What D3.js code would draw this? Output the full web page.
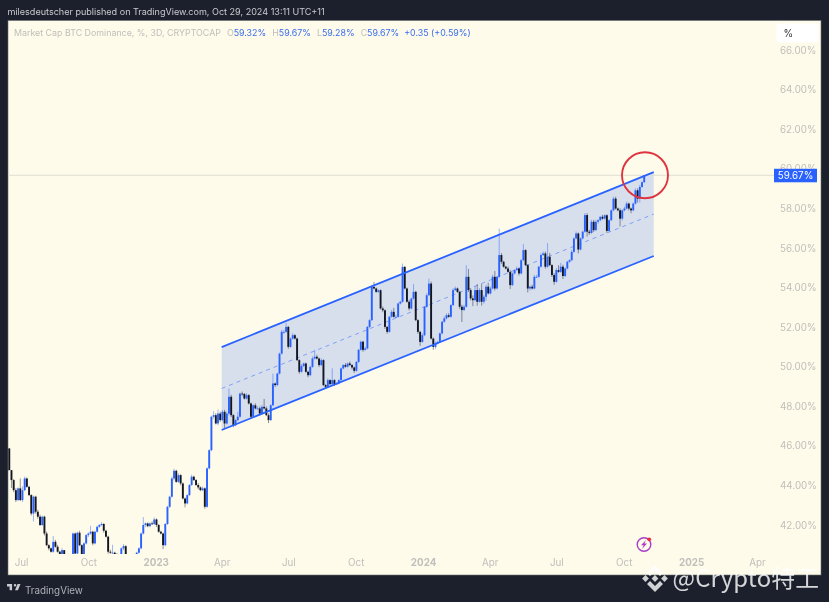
<!DOCTYPE html>
<html><head><meta charset="utf-8">
<script src="https://cdn.jsdelivr.net/npm/d3@7/dist/d3.min.js"></script>
<style>
html,body{margin:0;padding:0;background:#1c202c;overflow:hidden}
svg{display:block;filter:blur(.35px)}
text{font-family:Inter,"Noto Sans",sans-serif}
</style></head><body><svg id="c" width="829" height="602"></svg>
<script>
const firstOpen = 45.87;
const lastBarDate = "2024-10-29";
const closes = [
44.77,44.27,43.76,43.26,43.85,43.26,43.76,44.35,43.93,43.51,
42.58,43.43,42.67,42.42,42.0,42.42,41.57,40.98,40.82,40.65,
41.15,40.9,40.65,40.5,40.73,40.3,40.2,40.3,40.4,41.57,
40.56,41.61,40.98,40.53,41.07,41.49,41.57,41.66,41.07,41.66,
41.91,42.0,42.05,41.71,41.41,40.65,40.6,40.6,40.53,40.48,
40.43,40.82,40.93,40.5,40.3,40.25,40.3,40.4,40.6,40.82,
41.57,42.0,42.08,41.94,42.08,42.05,42.28,42.0,41.66,41.57,
40.98,42.05,42.92,43.43,44.35,44.74,44.18,44.52,44.1,43.34,
43.09,43.51,44.02,44.44,44.27,44.02,43.9,43.76,43.85,42.92,
44.86,45.78,47.47,47.55,47.13,47.63,47.3,47.72,47.13,47.63,
48.48,47.55,47.04,47.3,47.47,48.64,48.62,48.39,48.56,48.14,
47.47,48.05,47.89,47.89,47.63,47.97,47.89,47.55,47.3,48.05,
49.15,49.07,49.65,50.66,51.76,51.76,52.01,51.0,51.42,51.59,
51.42,50.33,49.74,50.03,50.16,49.74,49.57,49.99,50.41,50.5,
50.41,50.08,50.33,49.07,48.98,49.32,49.12,49.32,49.12,49.15,
49.32,49.91,50.08,50.0,50.16,50.08,49.96,49.79,50.24,50.85,
51.26,50.85,50.92,52.01,52.35,54.03,53.95,53.78,53.86,52.94,
52.85,52.01,51.76,52.52,52.77,52.52,52.52,53.19,53.28,55.04,
53.95,53.28,52.94,53.44,53.78,52.35,51.76,51.25,51.59,53.02,
53.61,54.2,51.42,51.0,51.17,51.25,51.68,52.27,52.44,52.6,
52.52,53.11,53.87,53.95,53.78,53.03,52.86,53.03,54.54,53.87,
53.45,53.36,53.87,53.28,53.87,53.28,53.53,54.04,53.7,53.95,
54.54,53.95,54.54,55.64,55.3,55.05,54.96,54.79,54.12,54.71,
54.88,54.96,54.71,55.38,55.89,55.13,53.95,54.04,53.95,54.54,
54.54,55.05,55.64,55.72,55.05,55.55,55.13,54.63,54.29,54.88,
54.79,55.05,54.58,54.96,55.3,55.38,55.8,56.48,56.73,55.92,
56.48,56.82,57.66,56.82,56.76,57.32,56.9,57.32,57.4,57.57,
57.48,57.65,56.86,57.4,57.9,58.49,57.99,57.9,57.48,57.9,
57.99,58.24,57.99,57.9,58.24,58.91,58.49,59.08,59.32,59.67];
const upperWicks = [
0,0,.05,.1,.05,.5,.2,.1,.05,.05,
.05,.05,.05,.1,.1,.05,.05,.1,.05,.05,
.3,.1,.1,.05,.1,0,0,0,0,.05,
.05,.05,.1,.05,.05,.05,.05,.3,.05,.05,
.05,.05,.1,.05,.05,.05,.1,.4,.05,.05,
.05,.05,.1,.05,0,0,0,0,.05,.05,
.05,.4,.05,.05,.05,.1,.1,.05,.05,.05,
.05,.05,.05,.05,.1,.1,.05,.1,.05,.05,
.05,.05,.05,.1,.05,.05,.1,.05,.1,.05,
.05,.05,.05,.2,.1,.2,.1,.1,.1,.1,
.42,.1,.05,.05,.25,.05,.1,.05,.1,.05,
.05,.05,.1,.1,.1,.1,.4,.1,.1,.05,
.5,.05,.05,.05,.1,.1,.2,.05,.05,.1,
.05,.05,.05,.1,.05,.05,.05,.05,.1,.35,
.1,.05,.1,.05,.05,.1,.05,.6,.05,.05,
.05,.05,.05,.1,.05,.1,.05,.05,.05,.05,
.05,.05,.1,.05,.05,.1,.25,.05,.05,.05,
.1,.05,.05,.05,.1,.2,.1,.05,.05,.17,
.05,.05,.1,.05,.4,.05,.05,.05,.1,.05,
.1,.25,.1,.05,.1,.05,.05,.05,.1,.1,
.1,.05,.1,.1,.05,.05,.1,.1,.59,.4,
.1,.15,.2,.3,.1,.3,.1,.1,.2,.1,
.1,.3,.05,1.34,.1,.05,.05,.1,.1,.05,
.05,.1,.05,.05,.3,.05,.05,.05,.1,.1,
.1,.05,.1,.1,.1,.7,.2,.05,.1,.1,
.25,.2,.1,.05,.05,.05,.1,.05,.1,.05,
.05,.05,.1,.1,.1,.1,.1,.1,.05,.05,
.1,.05,.05,.05,.05,.1,.1,.05,.1,.05,
.1,.1,.05,.05,.05,.1,.1,.1,.05,0];
const lowerWicks = [
0,.4,.1,.1,.05,.05,.1,.05,.05,.05,
.1,.4,.1,.1,.05,.05,.1,.05,.1,.05,
.05,.05,.05,.1,.05,0,0,0,0,.05,
.1,.05,.05,.1,.05,.05,.1,.05,.1,.05,
.05,.05,.05,.1,.05,.1,.05,.05,.1,.05,
.05,.05,.1,.05,0,0,0,0,.05,.05,
.05,.05,.1,.05,.05,.05,.05,.1,.05,.05,
.2,.05,.05,.05,.05,.1,.05,.05,.1,.05,
.2,.05,.05,.05,.05,.05,.1,.05,.05,.1,
.05,.05,.05,.1,.05,.1,.1,.05,.25,.05,
.1,.1,.1,.05,.05,.05,.1,.05,.05,.05,
.1,.05,.05,.05,.1,.05,.05,.05,.15,.05,
.05,.1,.05,.05,.05,.1,.05,.1,.05,.05,
.05,.05,.1,.05,.05,.05,.1,.05,.05,.05,
.05,.1,.05,.05,.1,.05,.05,.05,.1,.05,
.05,.05,.05,.05,.05,.05,.1,.1,.05,.05,
.05,.1,.05,.05,.05,.05,.05,.05,.05,.05,
.1,.1,.1,.05,.05,.05,.05,.05,.05,.05,
.05,.05,.1,.05,.05,.05,.1,.2,.05,.05,
.05,.05,.05,.15,.1,.05,.05,.05,.05,.05,
.05,.05,.05,.05,.05,.1,.6,.05,.05,.1,
.1,.3,.05,.2,.05,.2,.1,.2,.05,.05,
.05,.1,.05,.05,.1,.05,.05,.05,.2,.05,
.05,.05,.1,.05,.05,.05,.2,.1,.05,.05,
.05,.05,.05,.05,.1,.05,.05,.1,.15,.05,
.05,.05,.15,.05,.05,.05,.05,.05,.05,.2,
.05,.05,.05,.25,.1,.05,.1,.05,.1,.05,
.05,.05,.1,.05,.05,.05,.05,.05,.4,.1,
.05,.05,.1,.15,.05,.05,.2,.2,.05,.04];
const channelDates = ["2023-04-01","2024-11-11"];
const channelUpper = [50.99,59.83];
const channelMiddle = [48.9,57.71];
const channelLower = [46.8,55.59];
const yTicks = [42,44,46,48,50,52,54,56,58,60,62,64,66];
const timeTicks = [["2022-07-01","Jul"],["2022-10-01","Oct"],["2023-01-01","2023"],["2023-04-01","Apr"],["2023-07-01","Jul"],["2023-10-01","Oct"],["2024-01-01","2024"],["2024-04-01","Apr"],["2024-07-01","Jul"],["2024-10-01","Oct"],["2025-01-01","2025"],["2025-04-01","Apr"]];
const lastPrice = 59.67;
const headerText = "milesdeutscher published on TradingView.com, Oct 29, 2024 13:11 UTC+11";
const symbolText = "Market Cap BTC Dominance, %, 3D, CRYPTOCAP";
const ohlcLabels = ["O","H","L","C"];
const ohlcValues = ["59.32%","59.67%","59.28%","59.67%"];
const changeText = "+0.35 (+0.59%)";

const W=829,H=602,panel={l:8,t:20.5,r:821,b:575},plotB=554;
const cream="#fefbea",dark="#1c202c",blue="#2962ff",grey="#bfbfbb";
const parse=d3.utcParse("%Y-%m-%d");
const x=d3.scaleUtc().domain([parse("2022-07-01"),parse("2025-04-01")]).range([21,757]);
const y=d3.scaleLinear().domain([42,66]).range([525,50]);
const svg=d3.select("#c");
svg.append("rect").attr("width",W).attr("height",H).attr("fill",dark);
svg.append("rect").attr("x",panel.l).attr("y",panel.t).attr("width",panel.r-panel.l).attr("height",panel.b-panel.t).attr("fill",cream).attr("stroke","#6c6e70").attr("stroke-width",.6);
svg.append("text").attr("x",7.5).attr("y",15).attr("font-size",9.05).attr("fill","#c9cbd0").text(headerText);

const defs=svg.append("defs");
defs.append("clipPath").attr("id","plot").append("rect").attr("x",panel.l).attr("y",panel.t).attr("width",panel.r-panel.l).attr("height",plotB-panel.t);

// legend
const lg=svg.append("text").attr("x",14).attr("y",35.5).attr("font-size",8.85).attr("fill",grey);
lg.append("tspan").text(symbolText);
ohlcLabels.forEach((k,i)=>{
  lg.append("tspan").attr("dx",6).text(k);
  lg.append("tspan").attr("fill","#3a6df0").text(ohlcValues[i]);
});
lg.append("tspan").attr("dx",5).attr("fill","#3a6df0").text(changeText);

// y axis
const ya=svg.append("g").attr("transform","translate(768,0)").call(d3.axisRight(y).tickValues(yTicks).tickSize(0).tickFormat(d=>d3.format(".2f")(d)+"%"));
ya.select(".domain").remove();
ya.selectAll("text").attr("font-size",9.8).attr("fill",grey).attr("text-anchor","start").style("font-family","Inter");
ya.selectAll(".tick text").attr("x",12);

// x axis
const xa=svg.append("g").attr("transform","translate(0,559)").call(d3.axisBottom(x).tickValues(timeTicks.map(d=>parse(d[0]))).tickSize(0).tickPadding(0).tickFormat((d,i)=>timeTicks[i][1]));
xa.select(".domain").remove();
xa.selectAll("text").attr("font-size",9.8).attr("fill",grey).style("font-family","Inter").attr("font-weight",(d,i)=>/^\d/.test(timeTicks[i][1])?700:400);

// channel
const chanPts=channelDates.map(parse);
const g=svg.append("g").attr("clip-path","url(#plot)");
const band=d3.area().x(d=>x(d.d)).y0(d=>y(d.lo)).y1(d=>y(d.hi));
g.append("path").datum(chanPts.map((d,i)=>({d,lo:channelLower[i],hi:channelUpper[i]}))).attr("d",band).attr("fill",blue).attr("fill-opacity",.18);
const ln=d3.line().x(d=>x(d.d)).y(d=>y(d.v));
g.append("path").attr("d",ln(chanPts.map((d,i)=>({d,v:channelMiddle[i]})))).attr("fill","none").attr("stroke",blue).attr("stroke-opacity",.5).attr("stroke-width",1).attr("stroke-dasharray","4 4");

// price line
g.append("line").attr("x1",panel.l).attr("x2",774).attr("y1",y(lastPrice)).attr("y2",y(lastPrice)).attr("stroke","#dfddd2").attr("stroke-width",1);

// candles
const end=parse(lastBarDate),n=closes.length;
const bars=closes.map((c,i)=>{
  const o=i?closes[i-1]:firstOpen;
  return {d:d3.utcDay.offset(end,-3*(n-1-i)),o,c,h:Math.max(o,c)+upperWicks[i],l:Math.min(o,c)-lowerWicks[i]};
});
const color=d=>d.c>=d.o?blue:"#131722";
g.selectAll("line.w").data(bars).join("line").attr("class","w")
  .attr("x1",d=>x(d.d)).attr("x2",d=>x(d.d)).attr("y1",d=>y(d.h)).attr("y2",d=>y(d.l))
  .attr("stroke",color).attr("stroke-width",.9).attr("stroke-opacity",.5);
g.selectAll("rect.b").data(bars).join("rect").attr("class","b")
  .attr("x",d=>x(d.d)-.95).attr("width",1.9)
  .attr("y",d=>y(Math.max(d.o,d.c))).attr("height",d=>Math.max(.8,Math.abs(y(d.o)-y(d.c))))
  .attr("fill",color);

// channel borders above candles
[channelUpper,channelLower].forEach(a=>{
  g.append("path").attr("d",ln(chanPts.map((d,i)=>({d,v:a[i]})))).attr("fill","none").attr("stroke",blue).attr("stroke-width",1.8);
});

// last price label
svg.append("rect").attr("x",774).attr("y",y(lastPrice)-6.5).attr("width",43).attr("height",13.5).attr("fill",blue);
svg.append("text").attr("x",795.5).attr("y",y(lastPrice)+4).attr("text-anchor","middle").attr("font-size",9.8).attr("fill","#fff").text(lastPrice.toFixed(2)+"%");

// annotation circle
svg.append("circle").attr("cx",645).attr("cy",y(lastPrice)).attr("r",23).attr("fill","none").attr("stroke","#df3340").attr("stroke-width",1.9);

// percent button
svg.append("rect").attr("x",776.5).attr("y",23.5).attr("width",42).attr("height",19).attr("rx",3).attr("fill","#fff");
svg.append("text").attr("x",783.5).attr("y",36.5).attr("font-size",9.8).attr("fill","#333").text("%");

// bolt icon
const ic=svg.append("g").attr("transform","translate(644,544.5)");
ic.append("circle").attr("r",6.8).attr("fill","none").attr("stroke","#a93cc6").attr("stroke-width",1.4);
ic.append("path").attr("d","M2,-4.4 L-3,0.8 L-0.3,0.8 L-2,4.4 L3,-1 L0.4,-1 Z").attr("fill","#a93cc6");
ic.append("circle").attr("cx",5.2).attr("cy",-5.2).attr("r",1.9).attr("fill","#ee2d3c");

// TradingView logo
svg.append("path").attr("transform","translate(6.2,581.5) scale(.42)").attr("fill","#c9cbd0")
  .attr("d","M14 6H2v6h6v9h6V6Zm14 15h-7l6-15h7l-6 15Zm-7-9a3 3 0 1 0 0-6 3 3 0 0 0 0 6Z");
svg.append("text").attr("x",25).attr("y",593.5).attr("font-size",9.8).attr("fill","#aeb1b8").text("TradingView");

// watermark
const wm=svg.append("g").attr("transform","translate(655,578.5)").attr("fill","#fff").attr("fill-opacity",.8);
wm.append("path").attr("d","M0,-13.5 L8,-5.5 L5,-2.5 L0,-7.5 L-5,-2.5 L-8,-5.5 Z");
wm.append("path").attr("d","M0,13.5 L8,5.5 L5,2.5 L0,7.5 L-5,2.5 L-8,5.5 Z");
[-9.5,0,9.5].forEach(cx=>{
  wm.append("path").attr("d",`M${cx-3.4},0 L${cx},-3.4 L${cx+3.4},0 L${cx},3.4 Z`);
});
svg.append("text").attr("x",672.5).attr("y",587).attr("font-size",23.8).attr("letter-spacing",.2).attr("fill","#fff").attr("fill-opacity",.82).style("font-family",'"Noto Sans CJK SC","Noto Sans",sans-serif').text("@Crypto特工");
</script></body></html>
